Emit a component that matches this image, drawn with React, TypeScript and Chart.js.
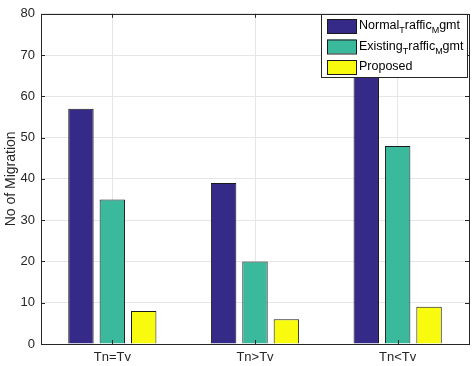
import React, { useEffect, useRef } from "react";
import { Chart, registerables } from "chart.js";
Chart.register(...registerables);

const categories = ["Tn=Tv", "Tn>Tv", "Tn<Tv"];
const normalTraffic = [57, 39, 79];
const existingTraffic = [35, 20, 48];
const proposed = [8, 6, 9];
const yTicks = [0, 10, 20, 30, 40, 50, 60, 70, 80];
// legend label pieces: [text, isSubscript]
const legendLabels: [string, boolean][][] = [
  [["Normal", false], ["T", true], ["raffic", false], ["M", true], ["gmt", false]],
  [["Existing", false], ["T", true], ["raffic", false], ["M", true], ["gmt", false]],
  [["Proposed", false]],
];
const colors = ["#352a87", "#3bb99d", "#f9fb0e"];

const FONT = "'Liberation Sans', Arial, sans-serif";
const AXIS = "#262626";

const framePlugin = {
  id: "frame",
  afterDraw(chart: any) {
    const { ctx, chartArea: a, scales } = chart;
    ctx.save();
    ctx.strokeStyle = AXIS;
    ctx.lineWidth = 1;
    ctx.strokeRect(Math.round(a.left) + 0.5, Math.round(a.top) + 0.5, Math.round(a.right - a.left), Math.round(a.bottom - a.top));
    // inward ticks
    const tl = 4;
    ctx.beginPath();
    categories.forEach((_, i) => {
      const x = Math.round(scales.x.getPixelForValue(i)) + 0.5;
      ctx.moveTo(x, a.bottom); ctx.lineTo(x, a.bottom - tl);
      ctx.moveTo(x, a.top); ctx.lineTo(x, a.top + tl);
    });
    yTicks.forEach((v) => {
      const y = Math.round(scales.y.getPixelForValue(v)) + 0.5;
      ctx.moveTo(a.left, y); ctx.lineTo(a.left + tl, y);
      ctx.moveTo(a.right, y); ctx.lineTo(a.right - tl, y);
    });
    ctx.stroke();

    // legend
    const lx = 321, ly = 14, lw = 146, lh = 63;
    ctx.fillStyle = "#ffffff";
    ctx.fillRect(lx, ly, lw, lh);
    ctx.strokeStyle = AXIS;
    ctx.strokeRect(lx + 0.5, ly + 0.5, lw, lh);
    const rowH = 20.5;
    legendLabels.forEach((parts, i) => {
      const cy = ly + 12 + i * rowH;
      ctx.fillStyle = colors[i];
      ctx.fillRect(327, cy - 7, 29, 14);
      ctx.strokeStyle = "#1a1a1a";
      ctx.strokeRect(327.5, cy - 6.5, 29, 14);
      let x = 359;
      ctx.textBaseline = "middle";
      ctx.fillStyle = "#000000";
      parts.forEach(([t, sub]) => {
        ctx.font = (sub ? "9px " : "12.5px ") + FONT;
        ctx.fillText(t, x, sub ? cy + 5 : cy);
        x += ctx.measureText(t).width;
      });
    });
    ctx.restore();
  },
};

export default function App() {
  const ref = useRef<HTMLCanvasElement>(null);
  useEffect(() => {
    document.body.style.margin = "0";
    const chart = new Chart(ref.current!, {
      type: "bar",
      data: {
        labels: categories,
        datasets: [
          { label: "Normal_Traffic_Mgmt", data: normalTraffic, backgroundColor: colors[0] },
          { label: "Existing_Traffic_Mgmt", data: existingTraffic, backgroundColor: colors[1] },
          { label: "Proposed", data: proposed, backgroundColor: colors[2] },
        ].map((d) => ({ ...d, borderColor: "#1a1a1a", borderWidth: 1, barPercentage: 0.81, categoryPercentage: 0.66 })),
      },
      options: {
        animation: false,
        responsive: false,
        devicePixelRatio: 1,
        layout: { padding: { top: 7, right: 5, left: 0, bottom: 0 } },
        plugins: { legend: { display: false }, tooltip: { enabled: false } },
        scales: {
          x: {
            grid: { color: "#e6e6e6", offset: false, drawTicks: false },
            border: { display: false },
            ticks: { color: AXIS, font: { family: FONT, size: 13 }, padding: 6 },
            afterFit: (s: any) => { s.height = 22; },
          },
          y: {
            min: 0, max: 80,
            grid: { color: "#e6e6e6", drawTicks: false },
            border: { display: false },
            ticks: { stepSize: 10, color: AXIS, font: { family: FONT, size: 13 }, padding: 6 },
            title: { display: true, text: "No of Migration", color: AXIS, font: { family: FONT, size: 14 }, padding: { top: 3, bottom: 0 } },
            afterFit: (s: any) => { s.width = 41; },
          },
        },
      },
      plugins: [framePlugin],
    });
    return () => chart.destroy();
  }, []);
  return (
    <div style={{ width: 474, height: 366 }}>
      <canvas ref={ref} width={474} height={366} />
    </div>
  );
}
